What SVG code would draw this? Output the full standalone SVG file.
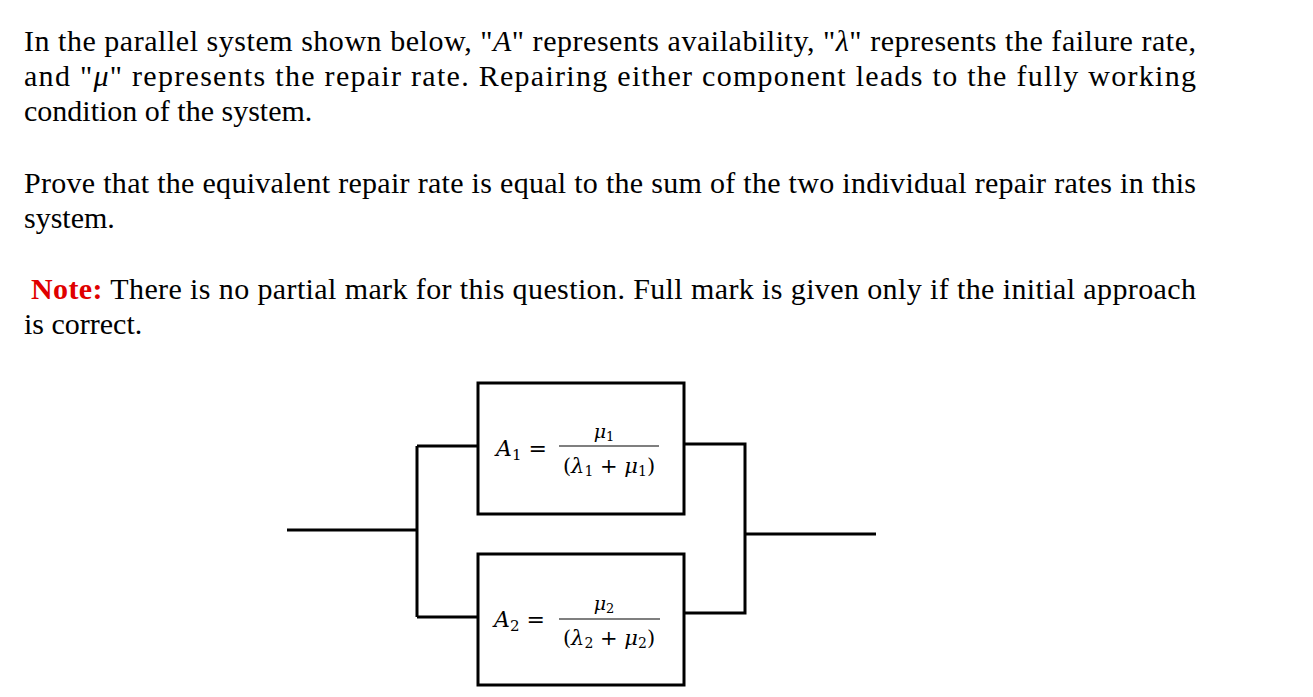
<svg xmlns="http://www.w3.org/2000/svg" width="1313" height="697" viewBox="0 0 1313 697">
<style>
.t{font-family:"Liberation Serif",serif;font-size:30px;fill:#000}
.m{font-family:"DejaVu Serif","Liberation Serif",serif;font-style:italic;fill:#000}
.box{fill:#fff;stroke:#000;stroke-width:3}
.w{fill:none;stroke:#000;stroke-width:3}
</style>
<rect width="1313" height="697" fill="#fff"/>
<text class="t" x="24" y="51" textLength="1172" lengthAdjust="spacing">In the parallel system shown below, "<tspan font-style="italic">A</tspan>" represents availability, "<tspan font-style="italic">λ</tspan>" represents the failure rate,</text>
<text class="t" x="24" y="86" textLength="1172" lengthAdjust="spacing">and "<tspan font-style="italic">μ</tspan>" represents the repair rate. Repairing either component leads to the fully working</text>
<text class="t" x="24" y="121">condition of the system.</text>
<text class="t" x="24" y="193" textLength="1172" lengthAdjust="spacing">Prove that the equivalent repair rate is equal to the sum of the two individual repair rates in this</text>
<text class="t" x="24" y="228">system.</text>
<text class="t" x="31" y="299" textLength="1165" lengthAdjust="spacing"><tspan fill="#e00000" font-weight="bold">Note:</tspan> There is no partial mark for this question. Full mark is given only if the initial approach</text>
<text class="t" x="24" y="334">is correct.</text>
<g id="connectors">
<path class="w" d="M287 530H417M417 446V617M417 446H478M417 617H478"/>
<path class="w" d="M684 444H745V613H684M745 534H876"/>
</g>
<g id="node1">
<rect class="box" x="478" y="383" width="206" height="131"/>
<text class="m" x="496" y="456" font-size="22">A<tspan font-size="15" dy="4" font-style="normal">1</tspan><tspan dy="-4" font-style="normal"> =</tspan></text>
<text class="m" x="604" y="438" font-size="19" text-anchor="middle">μ<tspan font-size="13" dy="3" font-style="normal">1</tspan></text>
<line x1="559" y1="446" x2="659" y2="446" stroke="#000" stroke-width="1.2"/>
<text class="m" x="609" y="473" font-size="21" text-anchor="middle"><tspan font-style="normal">(</tspan>λ<tspan font-size="14" dy="3" font-style="normal">1</tspan><tspan dy="-3" font-style="normal"> + </tspan>μ<tspan font-size="14" dy="3" font-style="normal">1</tspan><tspan dy="-3" font-style="normal">)</tspan></text>
</g>
<g id="node2">
<rect class="box" x="478" y="554" width="206" height="131"/>
<text class="m" x="494" y="627" font-size="22">A<tspan font-size="15" dy="4" font-style="normal">2</tspan><tspan dy="-4" font-style="normal"> =</tspan></text>
<text class="m" x="604" y="610" font-size="19" text-anchor="middle">μ<tspan font-size="13" dy="3" font-style="normal">2</tspan></text>
<line x1="559" y1="619" x2="660" y2="619" stroke="#000" stroke-width="1.2"/>
<text class="m" x="609" y="645" font-size="21" text-anchor="middle"><tspan font-style="normal">(</tspan>λ<tspan font-size="14" dy="3" font-style="normal">2</tspan><tspan dy="-3" font-style="normal"> + </tspan>μ<tspan font-size="14" dy="3" font-style="normal">2</tspan><tspan dy="-3" font-style="normal">)</tspan></text>
</g>
</svg>
